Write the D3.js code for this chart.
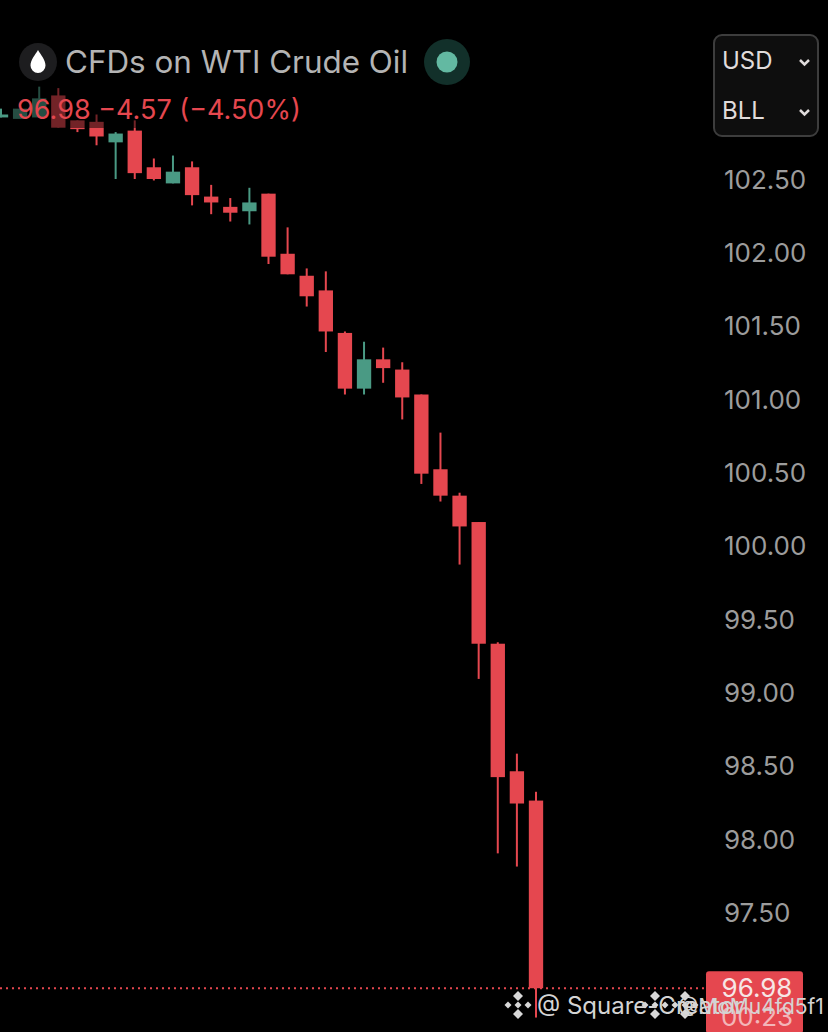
<!DOCTYPE html>
<html>
<head>
<meta charset="utf-8">
<style>
  html, body { margin: 0; padding: 0; background: #000; }
  svg { display: block; }
  text { font-family: Inter, "Noto Sans", sans-serif; }
</style>
<script src="https://cdn.jsdelivr.net/npm/d3@7/dist/d3.min.js"></script>
</head>
<body>
<svg id="chart" width="828" height="1032"></svg>
<script>
  'use strict';

  // Candles, oldest first. The first one is cut off by the left edge.
  var opens  = [102.92, 102.91, 102.92, 103.07, 102.90, 102.89, 102.75, 102.83, 102.58, 102.47, 102.58, 102.38, 102.31, 102.28, 102.40, 101.99, 101.84, 101.74, 101.45, 101.07, 101.27, 101.20, 101.03, 100.52, 100.34, 100.16,  99.33,  98.46,  98.26],
      highs  = [102.98, 102.91, 103.13, 103.12, 102.90, 102.94, 102.82, 102.90, 102.64, 102.66, 102.62, 102.46, 102.37, 102.44, 102.40, 102.17, 101.89, 101.87, 101.46, 101.39, 101.35, 101.25, 101.03, 100.77, 100.36, 100.16,  99.34,  98.58,  98.32],
      lows   = [102.92, 102.91, 102.92, 102.85, 102.82, 102.73, 102.50, 102.50, 102.49, 102.47, 102.32, 102.26, 102.21, 102.19, 101.92, 101.85, 101.63, 101.32, 101.03, 101.03, 101.11, 100.86, 100.42, 100.30,  99.87,  99.09,  97.90,  97.81,  96.78],
      closes = [102.94, 102.98, 103.05, 102.85, 102.84, 102.79, 102.81, 102.54, 102.50, 102.55, 102.39, 102.34, 102.27, 102.34, 101.97, 101.85, 101.70, 101.46, 101.07, 101.27, 101.21, 101.01, 100.49, 100.34, 100.13,  99.33,  98.42,  98.24,  96.98];

  var priceTicks = [ 102.5, 102, 101.5, 101, 100.5, 100, 99.5, 99, 98.5, 98, 97.5 ];
  var lastPrice  = 96.98;
  var titleLabel = 'CFDs on WTI Crude Oil',
      quoteLabel = '96.98 −4.57 (−4.50%)',
      countdown  = '00:23';
  var unitLabels = [ 'USD', 'BLL' ];

  var red   = '#e5474f',
      green = '#4a9a84';

  var svg = d3.select( '#chart' );

  var x = d3.scaleBand()
    .domain( d3.range( opens.length ) )
    .range( [ -8.55, 545.55 ] )
    .paddingInner( 0.25 )
    .paddingOuter( 0.125 );

  var y = d3.scaleLinear()
    .domain( [ 102.5, 97.5 ] )
    .range( [ 179, 912 ] );

  function color( i ) {
    return closes[i] >= opens[i] ? green : red;
  }

  // Price axis.
  var axis = svg.append( 'g' )
    .attr( 'transform', 'translate(716,1)' )
    .call( d3.axisRight( y )
      .tickValues( priceTicks )
      .tickFormat( d3.format( '.2f' ) )
      .tickSize( 0 ) );

  axis.select( '.domain' ).remove();
  axis.selectAll( 'text' )
    .attr( 'x', 8 )
    .style( 'font-size', '26px' )
    .style( 'fill', '#9c9c9c' );

  // Last price line.
  svg.append( 'line' )
    .attr( 'x1', 0 )
    .attr( 'x2', 706 )
    .attr( 'y1', y( lastPrice ) )
    .attr( 'y2', y( lastPrice ) )
    .style( 'stroke', red )
    .style( 'stroke-width', 2 )
    .style( 'stroke-dasharray', '2,4' );

  // Candles.
  var candle = svg.append( 'g' ).selectAll( 'g' )
    .data( d3.range( opens.length ) )
    .enter()
    .append( 'g' );

  candle.append( 'line' )
    .attr( 'x1', function( i ) { return x( i ) + x.bandwidth() / 2; } )
    .attr( 'x2', function( i ) { return x( i ) + x.bandwidth() / 2; } )
    .attr( 'y1', function( i ) { return y( highs[i] ); } )
    .attr( 'y2', function( i ) { return y( lows[i] ); } )
    .style( 'stroke', color )
    .style( 'stroke-width', 2 );

  candle.append( 'rect' )
    .attr( 'x', function( i ) { return x( i ); } )
    .attr( 'width', x.bandwidth() )
    .attr( 'y', function( i ) { return y( Math.max( opens[i], closes[i] ) ); } )
    .attr( 'height', function( i ) { return Math.abs( y( opens[i] ) - y( closes[i] ) ); } )
    .style( 'fill', color );

  // The legend dims whatever runs behind it.
  svg.append( 'rect' )
    .attr( 'x', 10 )
    .attr( 'y', 84 )
    .attr( 'width', 300 )
    .attr( 'height', 44 )
    .style( 'fill', '#000' )
    .style( 'fill-opacity', 0.5 );

  // Legend.
  svg.append( 'circle' )
    .attr( 'cx', 38 )
    .attr( 'cy', 62 )
    .attr( 'r', 19 )
    .style( 'fill', '#1d1d1f' );

  svg.append( 'path' )
    .attr( 'd', 'M38,50 C41,55 45.5,60 45.5,65.5 A7.5,7.5 0 0 1 30.5,65.5 C30.5,60 35,55 38,50 Z' )
    .style( 'fill', '#fff' );

  svg.append( 'text' )
    .attr( 'x', 65 )
    .attr( 'y', 73 )
    .text( titleLabel )
    .style( 'font-size', '31.4px' )
    .style( 'fill', '#b4b4b4' );

  svg.append( 'circle' )
    .attr( 'cx', 447 )
    .attr( 'cy', 62 )
    .attr( 'r', 23 )
    .style( 'fill', '#12302a' );

  svg.append( 'circle' )
    .attr( 'cx', 447 )
    .attr( 'cy', 62 )
    .attr( 'r', 10.5 )
    .style( 'fill', '#63b9a2' );

  svg.append( 'text' )
    .attr( 'x', 17 )
    .attr( 'y', 119 )
    .text( quoteLabel )
    .style( 'font-size', '27px' )
    .style( 'fill', red );

  // Currency and unit box.
  svg.append( 'rect' )
    .attr( 'x', 714 )
    .attr( 'y', 35 )
    .attr( 'width', 104 )
    .attr( 'height', 101 )
    .attr( 'rx', 8 )
    .style( 'fill', '#0e0e0e' )
    .style( 'stroke', '#3d3d3d' )
    .style( 'stroke-width', 2 );

  var unit = svg.append( 'g' ).selectAll( 'g' )
    .data( unitLabels )
    .enter()
    .append( 'g' )
      .attr( 'transform', function( d, i ) { return 'translate(0,' + ( i * 50 ) + ')'; } );

  unit.append( 'text' )
    .attr( 'x', 722 )
    .attr( 'y', 69 )
    .text( function( d ) { return d; } )
    .style( 'font-size', '24px' )
    .style( 'fill', '#e0dcdc' );

  unit.append( 'path' )
    .attr( 'd', 'M800,60 L804.5,64.5 L809,60' )
    .style( 'fill', 'none' )
    .style( 'stroke', '#e0dcdc' )
    .style( 'stroke-width', 2.5 );

  // Last price tag.
  svg.append( 'rect' )
    .attr( 'x', 706 )
    .attr( 'y', y( lastPrice ) - 17 )
    .attr( 'width', 97 )
    .attr( 'height', 62 )
    .attr( 'rx', 3 )
    .style( 'fill', red );

  svg.append( 'text' )
    .attr( 'x', 757 )
    .attr( 'y', y( lastPrice ) + 9 )
    .attr( 'text-anchor', 'middle' )
    .text( d3.format( '.2f' )( lastPrice ) )
    .style( 'font-size', '26px' )
    .style( 'fill', '#f6e6e6' );

  svg.append( 'text' )
    .attr( 'x', 757 )
    .attr( 'y', y( lastPrice ) + 38 )
    .attr( 'text-anchor', 'middle' )
    .text( countdown )
    .style( 'font-size', '26px' )
    .style( 'fill', '#f3b5b8' );

  // Watermarks, two of them printed on top of each other.
  function logo( cx, cy ) {
    var parts = [ [ 0, -9, 5 ], [ -10, 0, 3.5 ], [ 10, 0, 3.5 ], [ 0, 9, 5 ], [ 0, 0, 3.5 ] ];
    svg.append( 'g' )
      .attr( 'transform', 'translate(' + cx + ',' + cy + ')' )
      .selectAll( 'path' )
      .data( parts )
      .enter()
      .append( 'path' )
        .attr( 'd', function( p ) {
          return 'M' + p[0] + ',' + ( p[1] - p[2] ) + 'L' + ( p[0] + p[2] ) + ',' + p[1] +
            'L' + p[0] + ',' + ( p[1] + p[2] ) + 'L' + ( p[0] - p[2] ) + ',' + p[1] + 'Z';
        })
        .style( 'fill', '#d8d8d8' );
  }

  logo( 518, 1005 );
  logo( 655, 1005 );
  logo( 685, 1005 );

  svg.append( 'text' )
    .attr( 'x', 537 )
    .attr( 'y', 1014 )
    .text( '@ Square-Creator' )
    .style( 'font-size', '24px' )
    .style( 'fill', '#d4d4d4' );

  svg.append( 'text' )
    .attr( 'x', 678 )
    .attr( 'y', 1014 )
    .text( '@MoMu4fd5f1' )
    .style( 'font-size', '21px' )
    .style( 'fill', '#d4d4d4' );
</script>
</body>
</html>
